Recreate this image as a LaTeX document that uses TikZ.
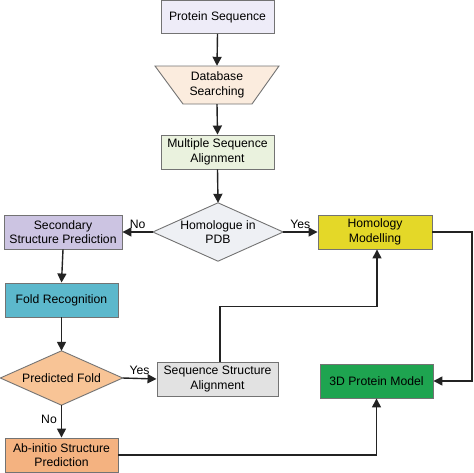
\documentclass[tikz,border=0pt]{standalone}
\usepackage{fontspec}
\setmainfont{Liberation Sans}
\usetikzlibrary{arrows.meta,calc}
\definecolor{cps}{RGB}{238,236,248}
\definecolor{cdb}{RGB}{251,236,222}
\definecolor{cmsa}{RGB}{234,242,222}
\definecolor{chom}{RGB}{238,240,244}
\definecolor{cssp}{RGB}{204,196,226}
\definecolor{cfold}{RGB}{92,184,204}
\definecolor{cpf}{RGB}{248,196,150}
\definecolor{cssa}{RGB}{226,226,226}
\definecolor{cabi}{RGB}{244,178,128}
\definecolor{chm}{RGB}{228,216,40}
\definecolor{cpm}{RGB}{30,164,80}
\definecolor{cbord}{RGB}{115,115,115}
\definecolor{carr}{RGB}{35,35,35}
\tikzset{
  box/.style={draw=cbord, line width=0.9pt, align=center, inner sep=0pt,
    font=\fontsize{12.2}{14.5}\selectfont},
  txt/.style={draw=none, align=center, inner sep=0pt, font=\fontsize{12.2}{14.5}\selectfont},
  outline/.style={draw=cbord, line width=0.9pt},
  arr/.style={draw=carr, line width=1.4pt, -{Triangle[length=9pt,width=9pt]}},
  lbl/.style={font=\fontsize{12.2}{14}\selectfont, inner sep=0pt}
}
\begin{document}
\begin{tikzpicture}[x=1pt,y=-1pt]
\useasboundingbox (0,0) rectangle (474,472);
% nodes
\node[box, fill=cps, minimum width=113pt, minimum height=33pt] (ps) at (217.5,17) {Protein Sequence};
\node[txt, minimum width=124pt, minimum height=38pt] (db) at (217,85) {};
\fill[cdb] (155,66) -- (279,66) -- (252,104) -- (183,104) -- cycle;
\draw[outline] (155,66) -- (279,66) -- (252,104) -- (183,104) -- cycle;
\node[txt] at (db) {Database\\Searching};
\node[box, fill=cmsa, minimum width=113pt, minimum height=34pt] (msa) at (217.5,152) {Multiple Sequence\\Alignment};
\node[txt, minimum width=130pt, minimum height=58pt] (hom) at (218,232) {};
\draw[outline, fill=chom] (hom.west) -- (hom.north) -- (hom.east) -- (hom.south) -- cycle;
\node[txt] at (hom) {Homologue in\\PDB};
\node[box, fill=cssp, minimum width=118pt, minimum height=34pt] (ssp) at (63,232) {Secondary\\Structure Prediction};
\node[box, fill=chm, minimum width=114pt, minimum height=34pt] (hm) at (375,232) {Homology\\Modelling};
\node[box, fill=cfold, minimum width=113pt, minimum height=34pt] (fold) at (61.5,300) {Fold Recognition};
\node[txt, minimum width=122pt, minimum height=54pt] (pf) at (61.5,378) {};
\draw[outline, fill=cpf] (pf.west) -- (pf.north) -- (pf.east) -- (pf.south) -- cycle;
\node[txt] at (pf) {Predicted Fold};
\node[box, fill=cssa, minimum width=121pt, minimum height=34pt] (ssa) at (217.5,379) {Sequence Structure\\Alignment};
\node[box, fill=cpm, minimum width=113pt, minimum height=34pt] (pm) at (376.5,381) {3D Protein Model};
\node[box, fill=cabi, minimum width=113pt, minimum height=34pt] (abi) at (61.5,455) {Ab-initio Structure\\Prediction};
\coordinate (c1) at (472,232);
% connectors
\draw[arr] (ps.south) -- (db.north);
\draw[arr] (db.south) -- (msa.north);
\draw[arr] (msa.south) -- (hom.north);
\draw[arr] (hom.west) -- node[lbl, above=3pt] {No} (ssp.east);
\draw[arr] (hom.east) -- node[lbl, above=3pt] {Yes} (hm.west);
\draw[arr] (ssp.south) -- (fold.north);
\draw[arr] (fold.south) -- (pf.north);
\draw[arr] (pf.east) -- node[lbl, above=3pt] {Yes} (ssa.west);
\draw[arr] (pf.south) -- node[lbl, left=4pt, pos=0.45] {No} (abi.north);
\draw[arr] ($(ssa.north)+(2.5,0)$) |- ($(hm.south)+(2,57)$) -- ($(hm.south)+(2,0)$);
\draw[arr] (hm.east) -- (c1) |- (pm.east);
\draw[arr] (abi.east) -| (pm.south);
\end{tikzpicture}
\end{document}
